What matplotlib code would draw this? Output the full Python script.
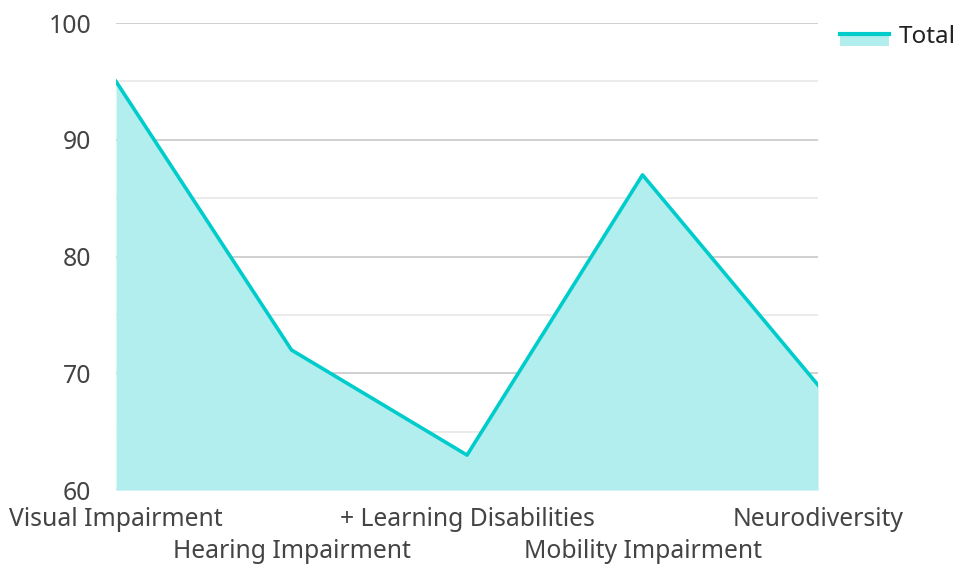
import matplotlib
matplotlib.use("Agg")
import matplotlib.pyplot as plt
from matplotlib.legend_handler import HandlerBase
from matplotlib.patches import Rectangle
from matplotlib.lines import Line2D

# Datos
categorias = ['Visual Impairment', 'Hearing Impairment', '+ Learning Disabilities',
              'Mobility Impairment', 'Neurodiversity']
total = [95, 72, 63, 87, 69]

linea_color = '#00cccc'
relleno_color = '#b2eeee'
texto_color = '#444444'

plt.rcParams['font.family'] = ['Noto Sans', 'DejaVu Sans']


class HandlerAreaLinea(HandlerBase):
    # parche de area con la linea arriba, como en la leyenda original
    def create_artists(self, legend, orig_handle, xdescent, ydescent,
                       width, height, fontsize, trans):
        y0 = -ydescent - height * 0.2
        top = -ydescent + height * 0.55
        rect = Rectangle((-xdescent, y0), width, top - y0,
                         facecolor=relleno_color, edgecolor='none', transform=trans)
        lin = Line2D([-xdescent, -xdescent + width], [top, top],
                     color=linea_color, lw=3, transform=trans)
        return [rect, lin]


def generar_grafico():
    fig = plt.figure(figsize=(9.59, 5.64), dpi=100)
    ax = fig.add_axes([0.121, 0.131, 0.732, 0.828])

    x = list(range(len(categorias)))
    ax.fill_between(x, total, 60, color=relleno_color, lw=0, zorder=2)
    ax.plot(x, total, color=linea_color, lw=2.6, zorder=3)

    ax.set_xlim(0, len(categorias) - 1)
    ax.set_ylim(60, 100)
    ax.set_yticks([60, 70, 80, 90, 100])
    ax.set_yticks([65, 75, 85, 95], minor=True)
    ax.grid(axis='y', which='major', color='#c8c8c8', lw=1.2, zorder=1)
    ax.grid(axis='y', which='minor', color='#e8e8e8', lw=1.2, zorder=1)

    # etiquetas alternadas en dos filas: pares como ticks mayores, impares como menores
    ax.set_xticks(x[0::2])
    ax.set_xticklabels(categorias[0::2])
    ax.set_xticks(x[1::2], minor=True)
    ax.set_xticklabels(categorias[1::2], minor=True)
    ax.tick_params(axis='x', which='major', length=0, pad=12, labelsize=17.8,
                   labelcolor=texto_color)
    ax.tick_params(axis='x', which='minor', length=0, pad=35, labelsize=17.8,
                   labelcolor=texto_color)
    ax.tick_params(axis='y', which='both', length=0, pad=18, labelsize=17.8,
                   labelcolor=texto_color)
    for s in ax.spines.values():
        s.set_visible(False)

    ax.legend([object()], ['Total'], handler_map={object: HandlerAreaLinea()},
              loc='upper left', bbox_to_anchor=(0.856, 0.99),
              bbox_transform=fig.transFigure, frameon=False, fontsize=17.5,
              handlelength=2.0, handletextpad=0.4, borderpad=0.3,
              labelcolor='#222222')

    fig.savefig('out.png', dpi=100)


if __name__ == "__main__":
    generar_grafico()
